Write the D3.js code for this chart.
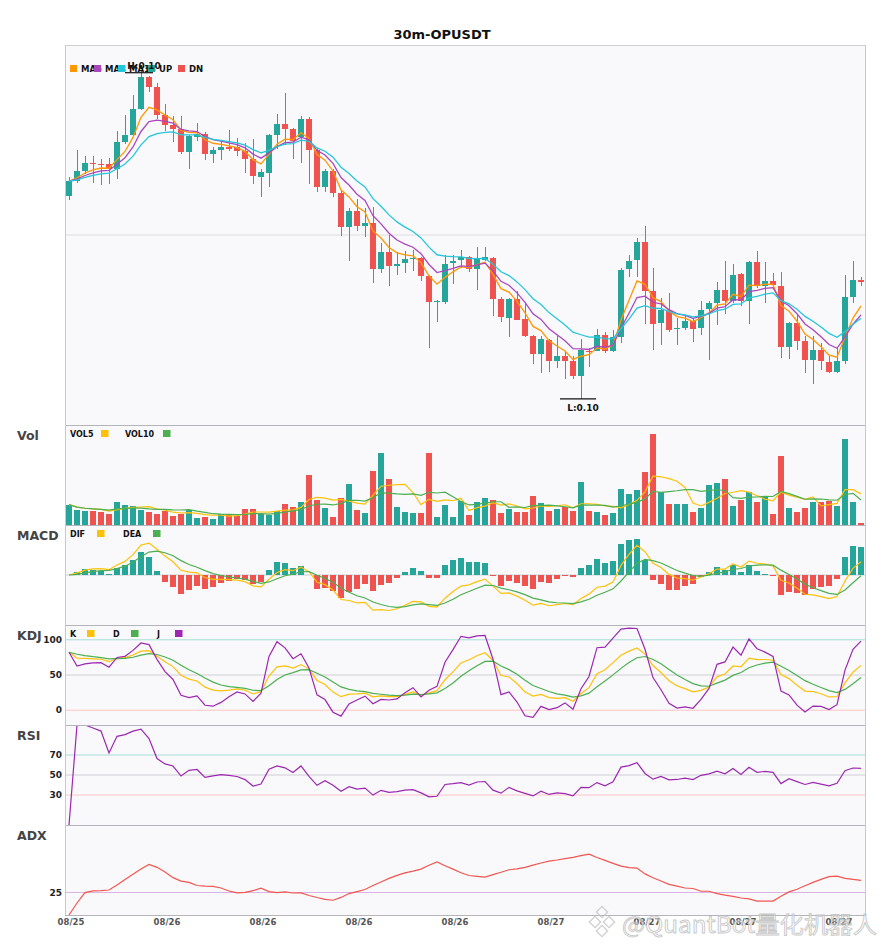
<!DOCTYPE html>
<html><head><meta charset="utf-8">
<script src="https://cdn.jsdelivr.net/npm/d3@7"></script>
<style>body{margin:0;background:#fff;} svg{display:block;font-family:"DejaVu Sans",sans-serif;}</style>
</head><body><svg id="c" width="885" height="950"></svg>
<script>
const chartTitle = "30m-OPUSDT";
const openP = [0.10080,0.10111,0.10130,0.10146,0.10145,0.10145,0.10135,0.10188,0.10202,0.10254,
0.10318,0.10298,0.10242,0.10222,0.10215,0.10169,0.10199,0.10205,0.10165,0.10172,
0.10178,0.10178,0.10170,0.10155,0.10118,0.10127,0.10202,0.10224,0.10214,0.10198,
0.10234,0.10173,0.10099,0.10130,0.10087,0.10018,0.10050,0.10020,0.10027,0.09935,
0.09968,0.09941,0.09947,0.09955,0.09957,0.09920,0.09869,0.09868,0.09947,0.09953,
0.09958,0.09935,0.09953,0.09957,0.09875,0.09837,0.09875,0.09835,0.09800,0.09765,
0.09793,0.09750,0.09760,0.09750,0.09720,0.09771,0.09771,0.09803,0.09770,0.09798,
0.09935,0.09952,0.09988,0.09890,0.09827,0.09850,0.09815,0.09817,0.09830,0.09817,
0.09855,0.09867,0.09893,0.09870,0.09925,0.09870,0.09948,0.09900,0.09910,0.09900,
0.09778,0.09827,0.09791,0.09753,0.09772,0.09748,0.09729,0.09750,0.09878,0.09913];
const highP = [0.10118,0.10173,0.10160,0.10160,0.10155,0.10157,0.10211,0.10242,0.10283,0.10330,
0.10320,0.10306,0.10265,0.10240,0.10240,0.10202,0.10226,0.10208,0.10179,0.10193,
0.10212,0.10197,0.10187,0.10195,0.10135,0.10204,0.10245,0.10287,0.10216,0.10241,
0.10238,0.10176,0.10134,0.10134,0.10090,0.10056,0.10074,0.10056,0.10058,0.09987,
0.10003,0.09968,0.09970,0.09973,0.09959,0.09922,0.09873,0.09963,0.09963,0.09973,
0.09960,0.09978,0.09978,0.09959,0.09878,0.09876,0.09891,0.09867,0.09802,0.09800,
0.09795,0.09800,0.09770,0.09760,0.09795,0.09777,0.09815,0.09809,0.09813,0.09936,
0.09963,0.09997,0.10020,0.09937,0.09877,0.09887,0.09837,0.09843,0.09837,0.09870,
0.09870,0.09908,0.09950,0.09945,0.09927,0.09951,0.09970,0.09948,0.09927,0.09928,
0.09829,0.09843,0.09800,0.09800,0.09787,0.09760,0.09777,0.09922,0.09951,0.09918];
const lowP = [0.10073,0.10107,0.10125,0.10107,0.10103,0.10105,0.10115,0.10184,0.10200,0.10252,
0.10289,0.10235,0.10211,0.10188,0.10165,0.10135,0.10190,0.10153,0.10147,0.10152,
0.10170,0.10160,0.10127,0.10105,0.10078,0.10098,0.10175,0.10183,0.10155,0.10147,
0.10105,0.10088,0.10088,0.10078,0.10000,0.09950,0.10010,0.09998,0.09907,0.09927,
0.09900,0.09922,0.09927,0.09930,0.09911,0.09777,0.09828,0.09865,0.09905,0.09937,
0.09929,0.09893,0.09951,0.09840,0.09828,0.09798,0.09832,0.09799,0.09745,0.09727,
0.09729,0.09737,0.09715,0.09715,0.09675,0.09738,0.09770,0.09767,0.09768,0.09787,
0.09918,0.09918,0.09825,0.09773,0.09782,0.09809,0.09782,0.09813,0.09789,0.09803,
0.09753,0.09823,0.09845,0.09867,0.09860,0.09825,0.09897,0.09867,0.09900,0.09757,
0.09755,0.09773,0.09727,0.09705,0.09733,0.09727,0.09727,0.09745,0.09867,0.09900];
const closeP = [0.10110,0.10130,0.10146,0.10145,0.10144,0.10135,0.10188,0.10202,0.10254,0.10318,
0.10298,0.10242,0.10222,0.10214,0.10169,0.10200,0.10205,0.10165,0.10172,0.10179,
0.10175,0.10170,0.10155,0.10120,0.10128,0.10202,0.10224,0.10215,0.10191,0.10234,
0.10173,0.10099,0.10130,0.10087,0.10018,0.10050,0.10020,0.10027,0.09935,0.09968,
0.09940,0.09945,0.09955,0.09957,0.09920,0.09868,0.09871,0.09945,0.09951,0.09958,
0.09935,0.09955,0.09958,0.09875,0.09838,0.09875,0.09833,0.09801,0.09765,0.09795,
0.09750,0.09760,0.09750,0.09720,0.09773,0.09769,0.09803,0.09771,0.09798,0.09933,
0.09951,0.09988,0.09890,0.09825,0.09853,0.09813,0.09817,0.09830,0.09815,0.09853,
0.09867,0.09893,0.09870,0.09922,0.09870,0.09948,0.09900,0.09910,0.09902,0.09778,
0.09827,0.09790,0.09753,0.09772,0.09750,0.09729,0.09750,0.09878,0.09913,0.09909];
const volume = [203,153,143,143,133,113,233,203,193,153,
133,113,143,93,113,153,73,83,63,113,
113,93,163,163,113,103,143,213,183,233,
493,253,173,83,273,403,153,123,533,713,
453,183,133,123,123,713,83,203,83,243,
103,233,273,253,123,163,133,133,293,223,
143,163,183,143,423,143,133,103,123,353,
303,343,523,903,323,213,213,213,133,173,
393,413,453,193,253,323,233,283,113,683,
173,133,173,233,233,243,193,853,233,23];
const tickLabels = ["08/25","08/26","08/26","08/26","08/26","08/27","08/27","08/27","08/27"];
const tickEvery = 12;
const maPeriods = [5, 8, 13];
const maNames = ["MA5", "MA8", "MA13"];
const volMaPeriods = [5, 10];
const macdParams = [5, 13, 5];
const kdjTicks = [100, 50, 0];
const rsiTicks = [70, 50, 30];
const adxTicks = [25];
const watermark = "@QuantBot量化机器人";

// ---- indicator helpers ----
const N = closeP.length;
function ema(arr, span){ const a = 2/(span+1); const o=[]; arr.forEach((v,i)=>o.push(i===0?v:o[i-1]+a*(v-o[i-1]))); return o; }
function rma0(arr, a){ const o=[]; let s=0; arr.forEach((v,i)=>{ s = i===0 ? 0 : s + a*(v-s); o.push(s); }); return o; }
function sma(arr, p){ return arr.map((v,i)=>d3.mean(arr.slice(Math.max(0,i-p+1), i+1))); }

const maLines = maPeriods.map(p=>ema(closeP, p));
const volMas = volMaPeriods.map(p=>sma(volume, p));
const emaF = ema(closeP,macdParams[0]), emaS = ema(closeP,macdParams[1]);
const dif = closeP.map((_,i)=>emaF[i]-emaS[i]);
const dea = ema(dif, macdParams[2]);
const hist = dif.map((v,i)=>2*(v-dea[i]));
// KDJ
const rsv = closeP.map((c,i)=>{ const lo=d3.min(lowP.slice(Math.max(0,i-8),i+1)), hi=d3.max(highP.slice(Math.max(0,i-8),i+1)); return hi===lo?50:(c-lo)/(hi-lo)*100; });
const K=[], D=[], J=[];
rsv.forEach((r,i)=>{ const k = i===0?r:K[i-1]*2/3 + r/3; const d = i===0?k:D[i-1]*2/3 + k/3; K.push(k); D.push(d); J.push(3*k-2*d); });
// RSI
const gains = closeP.map((c,i)=> i===0?0:Math.max(c-closeP[i-1],0));
const losses = closeP.map((c,i)=> i===0?0:Math.max(closeP[i-1]-c,0));
const ag = rma0(gains, 1/14), al = rma0(losses, 1/14);
const rsi = ag.map((g,i)=> (g+al[i])===0?0:100*g/(g+al[i]));
// ADX
const aA = 2/15;
const pdm = highP.map((h,i)=>{ if(i===0) return 0; const up=h-highP[i-1], dn=lowP[i-1]-lowP[i]; return (up>dn&&up>0)?up:0; });
const mdm = highP.map((h,i)=>{ if(i===0) return 0; const up=h-highP[i-1], dn=lowP[i-1]-lowP[i]; return (dn>up&&dn>0)?dn:0; });
const sp = rma0(pdm, aA), sm = rma0(mdm, aA);
const dx = sp.map((p,i)=> (p+sm[i])===0?0:100*Math.abs(p-sm[i])/(p+sm[i]));
const adx = rma0(dx, aA);

// ---- layout ----
const svg = d3.select("#c");
const L = 65, R = 865;
const P = { main:[45,425], vol:[425,525], macd:[525,625], kdj:[625,725], rsi:[725,825], adx:[825,915] };
const C = { up:"#26a69a", dn:"#ef5350", ma:["#ff9800","#ab47bc","#26c6da"], yel:"#ffc107", grn:"#4caf50", pur:"#9c27b0", adx:"#f4564f" };

const x = d3.scaleBand().domain(d3.range(N)).range([L,R]).paddingInner(0.25).paddingOuter(0.125);
const bw = x.bandwidth();
const cx = i => x(i) + bw/2;

Object.values(P).forEach(([t,b])=> svg.append("rect").attr("x",L).attr("y",t).attr("width",R-L).attr("height",b-t).attr("fill","#f9f9fc"));

svg.append("text").attr("x",442).attr("y",39).attr("text-anchor","middle").attr("font-weight","bold").attr("font-size",13).attr("fill","#111").text(chartTitle);

// main scale
const lo = d3.min(lowP), hi = d3.max(highP), pad = (hi-lo)*0.08;
const y = d3.scaleLinear().domain([lo-pad, hi+pad]).range([P.main[1], P.main[0]]);
svg.append("line").attr("x1",L).attr("x2",R).attr("y1",y((lo+hi)/2)).attr("y2",y((lo+hi)/2)).attr("stroke","#dddde2");

const defs = svg.append("defs");
Object.entries(P).forEach(([k,[t,b]])=> defs.append("clipPath").attr("id","clip-"+k).append("rect").attr("x",L).attr("y",t).attr("width",R-L).attr("height",b-t));

const gMain = svg.append("g").attr("clip-path","url(#clip-main)");
const isUp = i => closeP[i] >= openP[i];
gMain.selectAll("line.wick").data(d3.range(N)).join("line").attr("class","wick")
  .attr("x1",i=>cx(i)+0.5).attr("x2",i=>cx(i)+0.5).attr("y1",i=>y(highP[i])).attr("y2",i=>y(lowP[i]))
  .attr("stroke",i=>isUp(i)?C.up:C.dn).attr("stroke-width",1).attr("shape-rendering","crispEdges");
gMain.selectAll("rect.body").data(d3.range(N)).join("rect").attr("class","body")
  .attr("x",i=>x(i)).attr("width",bw)
  .attr("y",i=>y(Math.max(openP[i],closeP[i])))
  .attr("height",i=>Math.max(1, Math.abs(y(openP[i])-y(closeP[i]))))
  .attr("fill",i=>isUp(i)?C.up:C.dn).attr("shape-rendering","crispEdges");

const line = (scale)=> d3.line().x((d,i)=>cx(i)).y(d=>scale(d));
maLines.forEach((arr,k)=> gMain.append("path").attr("d",line(y)(arr)).attr("fill","none").attr("stroke",C.ma[k]).attr("stroke-width",1.3));

// legend main
const mainLeg = [
  {label:maNames[0], sq:70, c:C.ma[0]},{label:maNames[1], sq:94, c:C.ma[1]},{label:maNames[2], sq:118, c:C.ma[2]},
  {label:"UP", sq:148, c:C.up},{label:"DN", sq:178, c:C.dn}];
mainLeg.forEach(it=>{
  svg.append("rect").attr("x",it.sq).attr("y",65).attr("width",7).attr("height",7).attr("fill",it.c);
  svg.append("text").attr("x",it.sq+11).attr("y",72).attr("font-size",8.5).attr("font-weight","bold").attr("fill","#111").text(it.label);
});

// H / L markers
const iH = d3.maxIndex(highP), iL = d3.minIndex(lowP);
svg.append("line").attr("x1",cx(iH)-16).attr("x2",cx(iH)+12).attr("y1",y(hi)+1.5).attr("y2",y(hi)+1.5).attr("stroke","#111").attr("stroke-width",1.2);
svg.append("text").attr("x",cx(iH)+3).attr("y",y(hi)-2.5).attr("text-anchor","middle").attr("font-size",9).attr("font-weight","bold").attr("fill","#111").text("H:"+hi.toFixed(2));
svg.append("line").attr("x1",cx(iL)-21).attr("x2",cx(iL)+15).attr("y1",y(lo)).attr("y2",y(lo)).attr("stroke","#111").attr("stroke-width",1.2);
svg.append("text").attr("x",cx(iL)+2).attr("y",y(lo)+12).attr("text-anchor","middle").attr("font-size",9).attr("font-weight","bold").attr("fill","#111").text("L:"+lo.toFixed(2));

// ---- volume ----
const yv = d3.scaleLinear().domain([0, d3.max(volume)*1.1]).range([P.vol[1], P.vol[0]]);
const gVol = svg.append("g").attr("clip-path","url(#clip-vol)");
gVol.selectAll("rect").data(volume).join("rect").attr("x",(d,i)=>x(i)).attr("width",bw)
  .attr("y",d=>yv(d)).attr("height",d=>yv(0)-yv(d)).attr("fill",(d,i)=>isUp(i)?C.up:C.dn).attr("shape-rendering","crispEdges");
[C.yel, C.grn].forEach((c,k)=> gVol.append("path").attr("d",line(yv)(volMas[k])).attr("fill","none").attr("stroke",c).attr("stroke-width",1.2));

// ---- MACD ----
const mAbs = d3.max([...dif,...dea,...hist].map(Math.abs))*1.4;
const ym = d3.scaleLinear().domain([-mAbs, mAbs]).range([P.macd[1], P.macd[0]]);
const gM = svg.append("g").attr("clip-path","url(#clip-macd)");
gM.append("line").attr("x1",L).attr("x2",R).attr("y1",ym(0)).attr("y2",ym(0)).attr("stroke","#cfcfd4");
gM.selectAll("rect").data(hist).join("rect").attr("x",(d,i)=>x(i)).attr("width",bw)
  .attr("y",d=>ym(Math.max(d,0))).attr("height",d=>Math.abs(ym(d)-ym(0))).attr("fill",d=>d>=0?C.up:C.dn).attr("shape-rendering","crispEdges");
gM.append("path").attr("d",line(ym)(dif)).attr("fill","none").attr("stroke",C.yel).attr("stroke-width",1.2);
gM.append("path").attr("d",line(ym)(dea)).attr("fill","none").attr("stroke",C.grn).attr("stroke-width",1.2);

// ---- KDJ ----
const yk = d3.scaleLinear().domain([-21, 121]).range([P.kdj[1], P.kdj[0]]);
const gK = svg.append("g").attr("clip-path","url(#clip-kdj)");
const refColor = v => v>=70 ? "#a8dcd6" : (v<=30 ? "#ffc4c4" : "#cfcfd4");
kdjTicks.forEach(t=> gK.append("line").attr("x1",L).attr("x2",R).attr("y1",yk(t)).attr("y2",yk(t)).attr("stroke",refColor(t)));
[[K,C.yel],[D,C.grn],[J,C.pur]].forEach(([a,c])=> gK.append("path").attr("d",line(yk)(a)).attr("fill","none").attr("stroke",c).attr("stroke-width",1.2));

// ---- RSI ----
const yr = d3.scaleLinear().domain([0,100]).range([P.rsi[1], P.rsi[0]]);
const gR = svg.append("g").attr("clip-path","url(#clip-rsi)");
rsiTicks.forEach(t=> gR.append("line").attr("x1",L).attr("x2",R).attr("y1",yr(t)).attr("y2",yr(t)).attr("stroke",refColor(t)));
gR.append("path").attr("d",line(yr)(rsi)).attr("fill","none").attr("stroke",C.pur).attr("stroke-width",1.2);

// ---- ADX ----
const ya = d3.scaleLinear().domain([0,100]).range([P.adx[1], P.adx[0]]);
const gA = svg.append("g").attr("clip-path","url(#clip-adx)");
adxTicks.forEach(t=> gA.append("line").attr("x1",L).attr("x2",R).attr("y1",ya(t)).attr("y2",ya(t)).attr("stroke","#dcb4e4"));
gA.append("path").attr("d",line(ya)(adx)).attr("fill","none").attr("stroke",C.adx).attr("stroke-width",1.2);

// y tick labels
const tickTxt = (scale, vals)=> vals.forEach(v=> svg.append("text").attr("x",62).attr("y",scale(v)).attr("dy","0.35em").attr("text-anchor","end").attr("font-size",9).attr("font-weight","bold").attr("fill","#222").text(v));
tickTxt(yk, kdjTicks); tickTxt(yr, rsiTicks); tickTxt(ya, adxTicks);

// borders
[45,425,525,625,725,825,915].forEach(v=> svg.append("line").attr("x1",L).attr("x2",R+1).attr("y1",v+0.5).attr("y2",v+0.5).attr("stroke", v===45?"#d0d0d6":"#b4b4bc"));
[L,R].forEach(v=> svg.append("line").attr("x1",v+0.5).attr("x2",v+0.5).attr("y1",45).attr("y2",915).attr("stroke","#c8c8d0"));

// panel labels
[["Vol",P.vol[0]],["MACD",P.macd[0]],["KDJ",P.kdj[0]],["RSI",P.rsi[0]],["ADX",P.adx[0]]].forEach(([t,top])=>
  svg.append("text").attr("x",17).attr("y",top+14.5).attr("font-size",12.5).attr("font-weight","bold").attr("fill","#444").text(t));

// sub legends
function subLegend(top, items){ items.forEach(it=>{
  svg.append("text").attr("x",it.x).attr("y",top+11.7).attr("font-size",8).attr("font-weight","bold").attr("fill","#111").text(it.label);
  svg.append("rect").attr("x",it.sq).attr("y",top+5).attr("width",7.5).attr("height",7).attr("fill",it.c);
});}
subLegend(P.vol[0], [{label:"VOL5",x:70,sq:101,c:C.yel},{label:"VOL10",x:125,sq:163,c:C.grn}]);
subLegend(P.macd[0], [{label:"DIF",x:70,sq:97,c:C.yel},{label:"DEA",x:123,sq:153,c:C.grn}]);
subLegend(P.kdj[0], [{label:"K",x:70,sq:87,c:C.yel},{label:"D",x:113,sq:131,c:C.grn},{label:"J",x:157,sq:175,c:C.pur}]);

// x-axis labels
tickLabels.forEach((t,k)=> svg.append("text").attr("x",cx(k*tickEvery)+2).attr("y",925).attr("text-anchor","middle").attr("font-size",8.5).attr("font-weight","bold").attr("fill","#555").text(t));

// watermark (as in the source image)
const wm = svg.append("g").attr("opacity",0.8);
[[602,912],[595,922],[609,922],[602,931]].forEach(([a,b])=>
  wm.append("rect").attr("x",a-4).attr("y",b-4).attr("width",8).attr("height",8).attr("transform",`rotate(45 ${a} ${b})`).attr("fill","none").attr("stroke","#c4c4c4").attr("stroke-width",1.3));
wm.append("text").attr("x",622).attr("y",933).attr("font-size",23).attr("textLength",255).attr("lengthAdjust","spacingAndGlyphs")
  .attr("font-family","'Noto Sans CJK SC','DejaVu Sans',sans-serif")
  .attr("fill","#fff").attr("fill-opacity",0.6).attr("stroke","#bdbdbd").attr("stroke-width",0.9).text(watermark);
</script></body></html>
